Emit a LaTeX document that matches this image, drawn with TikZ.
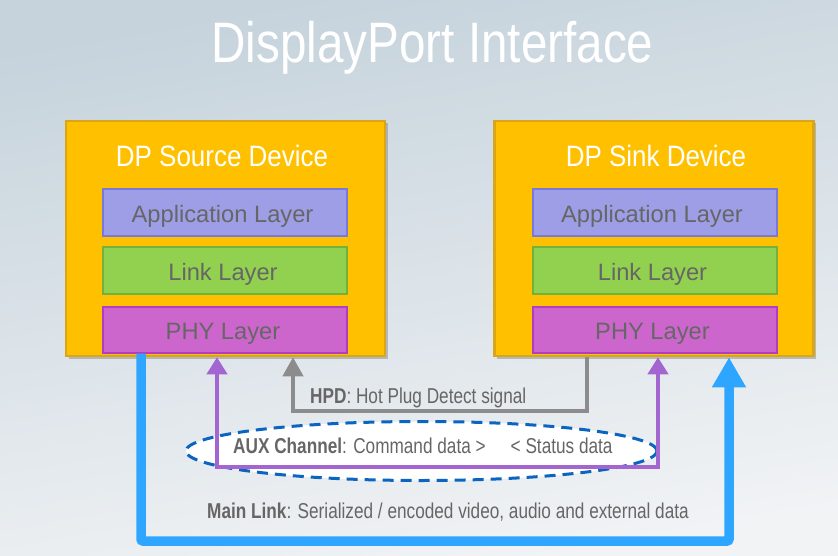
\documentclass[tikz,border=0pt]{standalone}
\usepackage{fontspec}
\setmainfont{Liberation Sans}
\newfontfamily\titlefont[FakeStretch=0.835]{Liberation Sans}
\newfontfamily\devfont[FakeStretch=0.88]{Liberation Sans}
\newfontfamily\smallfont[FakeStretch=0.80]{Liberation Sans}
\usetikzlibrary{arrows.meta,shapes.geometric,shadows}
\definecolor{bgtop}{HTML}{C6D3DC}
\definecolor{bgbot}{HTML}{F1F3F5}
\definecolor{gold}{HTML}{FFC000}
\definecolor{goldline}{HTML}{D9A61A}
\definecolor{appfill}{HTML}{9E9EE6}
\definecolor{appline}{HTML}{7878DE}
\definecolor{linkfill}{HTML}{92D050}
\definecolor{linkline}{HTML}{72B23A}
\definecolor{phyfill}{HTML}{CC66CC}
\definecolor{phyline}{HTML}{B23CC2}
\definecolor{txtgray}{HTML}{666666}
\definecolor{hpdgray}{HTML}{8C8C8C}
\definecolor{auxpurple}{HTML}{A366D1}
\definecolor{mlblue}{HTML}{2EA6FF}
\definecolor{ellblue}{HTML}{0A64C0}
\tikzset{
  devbox/.style={draw=goldline, fill=gold, line width=2.5pt, minimum width=319pt, minimum height=235pt, inner sep=0pt,
     drop shadow={shadow xshift=2.5pt, shadow yshift=-2.5pt, opacity=0.45}},
  layerbox/.style={line width=2pt, minimum width=244pt, inner sep=0pt},
  applayer/.style={layerbox, draw=appline, fill=appfill, minimum height=47pt},
  linklayer/.style={layerbox, draw=linkline, fill=linkfill, minimum height=46pt},
  phylayer/.style={layerbox, draw=phyline, fill=phyfill, minimum height=46pt},
  layertext/.style={anchor=base, text=txtgray, font=\fontsize{23.7}{26}\selectfont, inner sep=0pt},
  devtitle/.style={anchor=base, text=white, font=\devfont\fontsize{29.5}{32}\selectfont, inner sep=0pt},
  smalltext/.style={anchor=base west, text=txtgray, font=\smallfont\fontsize{21.5}{24}\selectfont, inner sep=0pt},
  hpdline/.style={draw=hpdgray, line width=4pt, -{Triangle[width=20pt,length=19pt]}},
  auxline/.style={draw=auxpurple, line width=4pt, {Triangle[width=20pt,length=17pt]}-{Triangle[width=20pt,length=17pt]}},
  mainlink/.style={draw=mlblue, line width=9.5pt, rounded corners=2pt, -{Triangle[width=32pt,length=30pt]}},
}
\begin{document}
\begin{tikzpicture}[x=1pt,y=-1pt]
\shade[top color=bgtop, bottom color=bgbot, shading angle=10] (0,0) rectangle (838,556);
\useasboundingbox (0,0) rectangle (838,556);

\node[anchor=base, text=white, font=\titlefont\fontsize{57}{60}\selectfont, inner sep=0pt] (title) at (432.5,63) {DisplayPort Interface};

% devices
\node[devbox] (src) at (225.5,238.5) {};
\node[devbox] (snk) at (654,238.5) {};
\node[devtitle] (srct) at (222,167) {DP Source Device};
\node[devtitle] (snkt) at (656,167) {DP Sink Device};

% layers
\node[applayer] (srcapp) at (225,213) {};
\node[linklayer] (srclink) at (225,270.5) {};
\node[phylayer] (srcphy) at (225,329.5) {};
\node[applayer] (snkapp) at (654.5,213) {};
\node[linklayer] (snklink) at (654.5,270.5) {};
\node[phylayer] (snkphy) at (654.5,329.5) {};
\node[layertext] (t1) at (222.5,222.5) {Application Layer};
\node[layertext] (t2) at (223,280.5) {Link Layer};
\node[layertext] (t3) at (223,339.5) {PHY Layer};
\node[layertext] (t4) at (652,222.5) {Application Layer};
\node[layertext] (t5) at (652.5,280.5) {Link Layer};
\node[layertext] (t6) at (652.5,339.5) {PHY Layer};

% AUX ellipse
\node[ellipse, draw=ellblue, fill=white, line width=3pt, dash pattern=on 11pt off 7pt, minimum width=471pt, minimum height=59pt, inner sep=0pt] (aux) at (421.5,451) {};

% connectors
\coordinate (hpdR) at (587,411);
\coordinate (hpdL) at (293,411);
\draw[hpdline] (snk.south -| hpdR) -- (hpdR) -- (hpdL) -- (src.south -| hpdL);

\coordinate (auxL) at (217,467);
\coordinate (auxR) at (658,467);
\draw[auxline] (src.south -| auxL) -- (auxL) -- (auxR) -- (snk.south -| auxR);

\coordinate (mlL) at (141,541);
\coordinate (mlR) at (729,541);
\draw[mainlink] (srcphy.south -| mlL) -- (mlL) -- (mlR) -- (snk.south -| mlR);

% labels
\node[smalltext] (hpdtxt) at (310,403) {\textbf{HPD}: Hot Plug Detect signal};
\node[smalltext] (auxtxt) at (233,453) {\textbf{AUX Channel}: Command data >\hspace{25pt}< Status data};
\node[smalltext] (mltxt) at (207,518) {\textbf{Main Link}: Serialized / encoded video, audio and external data};
\end{tikzpicture}
\end{document}
